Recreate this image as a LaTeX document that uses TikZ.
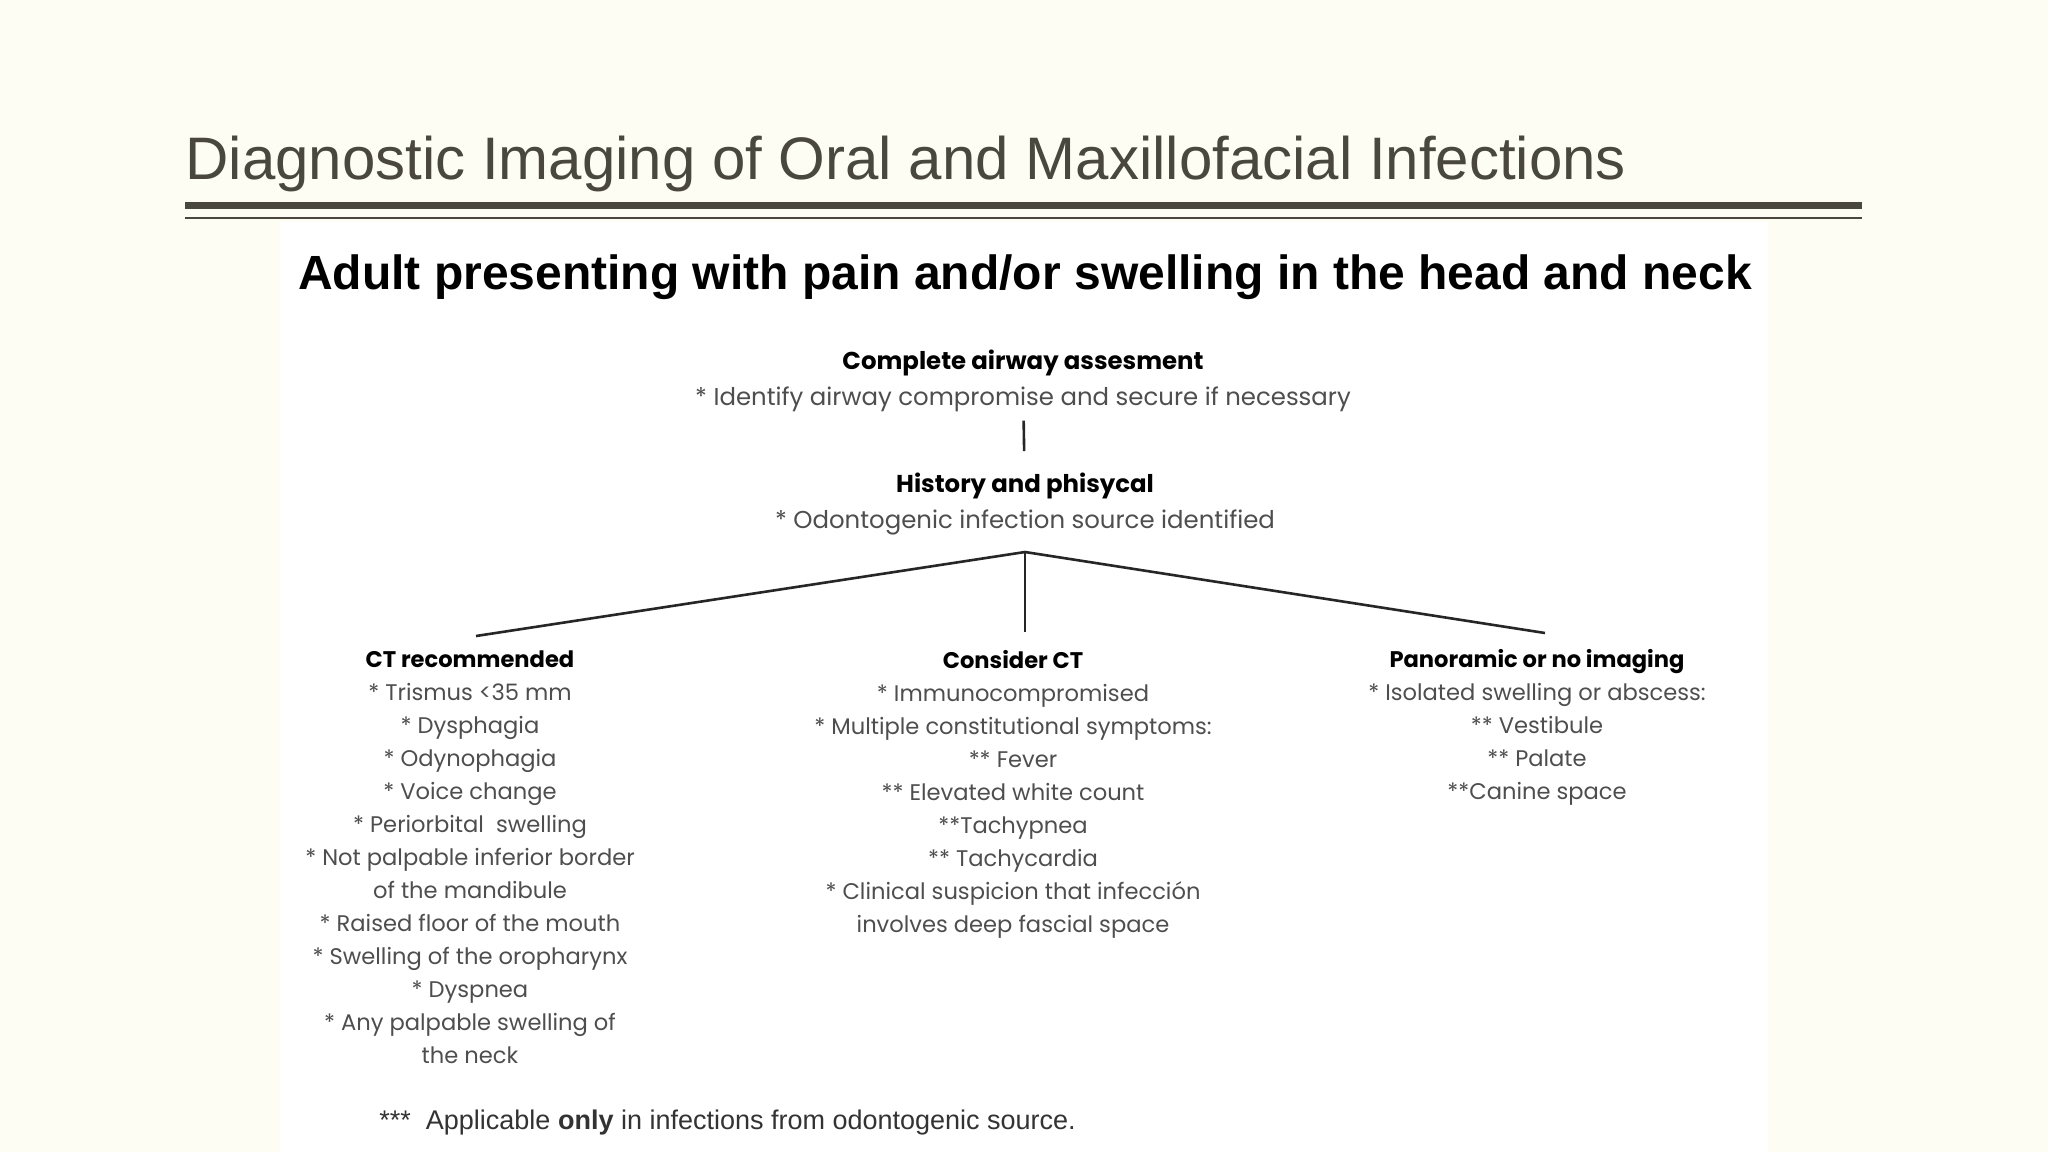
\documentclass[tikz,border=0pt]{standalone}
\usepackage{fontspec}
\setmainfont{Liberation Sans}
\newfontfamily\chartfont{Poppins}
\definecolor{slidebg}{RGB}{254,253,244}
\definecolor{titlegray}{RGB}{74,72,62}
\definecolor{bodygray}{RGB}{78,78,78}
\newcommand\chead[1]{{\color{black}\bfseries #1}}

\begin{document}
\begin{tikzpicture}[x=0.5pt,y=-0.5pt,
    flow/.style={inner sep=0pt, align=center, text=bodygray,
        font=\chartfont\fontsize{11.3}{16.5}\selectfont},
    topflow/.style={flow, font=\chartfont\fontsize{12.2}{18}\selectfont},
    link/.style={line width=1.3pt, black!85}]
    \useasboundingbox (0,0) rectangle (2048,1152);
    \fill[slidebg] (0,0) rectangle (2048,1152);
    \fill[white] (280,222) rectangle (1768,1152);

    % slide title
    \node[anchor=base west, inner sep=0pt, text=titlegray,
        font=\fontsize{30}{36}\selectfont] (title) at (185,179)
        {Diagnostic Imaging of Oral and Maxillofacial Infections};
    \draw[titlegray, line width=3.5pt] (185,205) -- (1862,205);
    \draw[titlegray, line width=1.25pt] (185,218) -- (1862,218);

    \node[anchor=base, inner sep=0pt, font=\bfseries\fontsize{24}{28}\selectfont] (adult) at (1025,289)
        {Adult presenting with pain and/or swelling in the head and neck};

    % chart
    \node[topflow, anchor=north] (air) at (1023,350)
        {\chead{Complete airway assesment}\\
        * Identify airway compromise and secure if necessary};
    \node[topflow, anchor=north] (hist) at (1025,473)
        {\chead{History and phisycal}\\
        * Odontogenic infection source identified};
    \coordinate (split) at (1025,552);

    \node[flow, anchor=north] (ctrec) at (470,650)
        {\chead{CT recommended}\\
        * Trismus <35 mm\\
        * Dysphagia\\
        * Odynophagia\\
        * Voice change\\
        * Periorbital~ swelling\\
        * Not palpable inferior border\\
        of the mandibule\\
        * Raised floor of the mouth\\
        * Swelling of the oropharynx\\
        * Dyspnea\\
        * Any palpable swelling of\\
        the neck};
    \node[flow, anchor=north] (consider) at (1013,650)
        {\chead{Consider CT}\\
        * Immunocompromised\\
        * Multiple constitutional symptoms:\\
        ** Fever\\
        ** Elevated white count\\
        **Tachypnea\\
        ** Tachycardia\\
        * Clinical suspicion that infección\\
        involves deep fascial space};
    \node[flow, anchor=north] (pano) at (1537,649)
        {\chead{Panoramic or no imaging}\\
        * Isolated swelling or abscess:\\
        ** Vestibule\\
        ** Palate\\
        **Canine space};

    \draw[link, shorten <=4pt, shorten >=11pt] (air) -- (hist);
    \draw[link] ([xshift=3pt, yshift=7pt]ctrec.north) -- (split) -- ([xshift=4pt, yshift=8pt]pano.north);
    \draw[link] (split) -- ([yshift=9pt]split |- consider.north);

    \node[anchor=base west, inner sep=0pt, text=black!80,
        font=\fontsize{13.5}{16}\selectfont] (note) at (379,1129)
        {***\ \ Applicable \textbf{only} in infections from odontogenic source.};
\end{tikzpicture}
\end{document}
